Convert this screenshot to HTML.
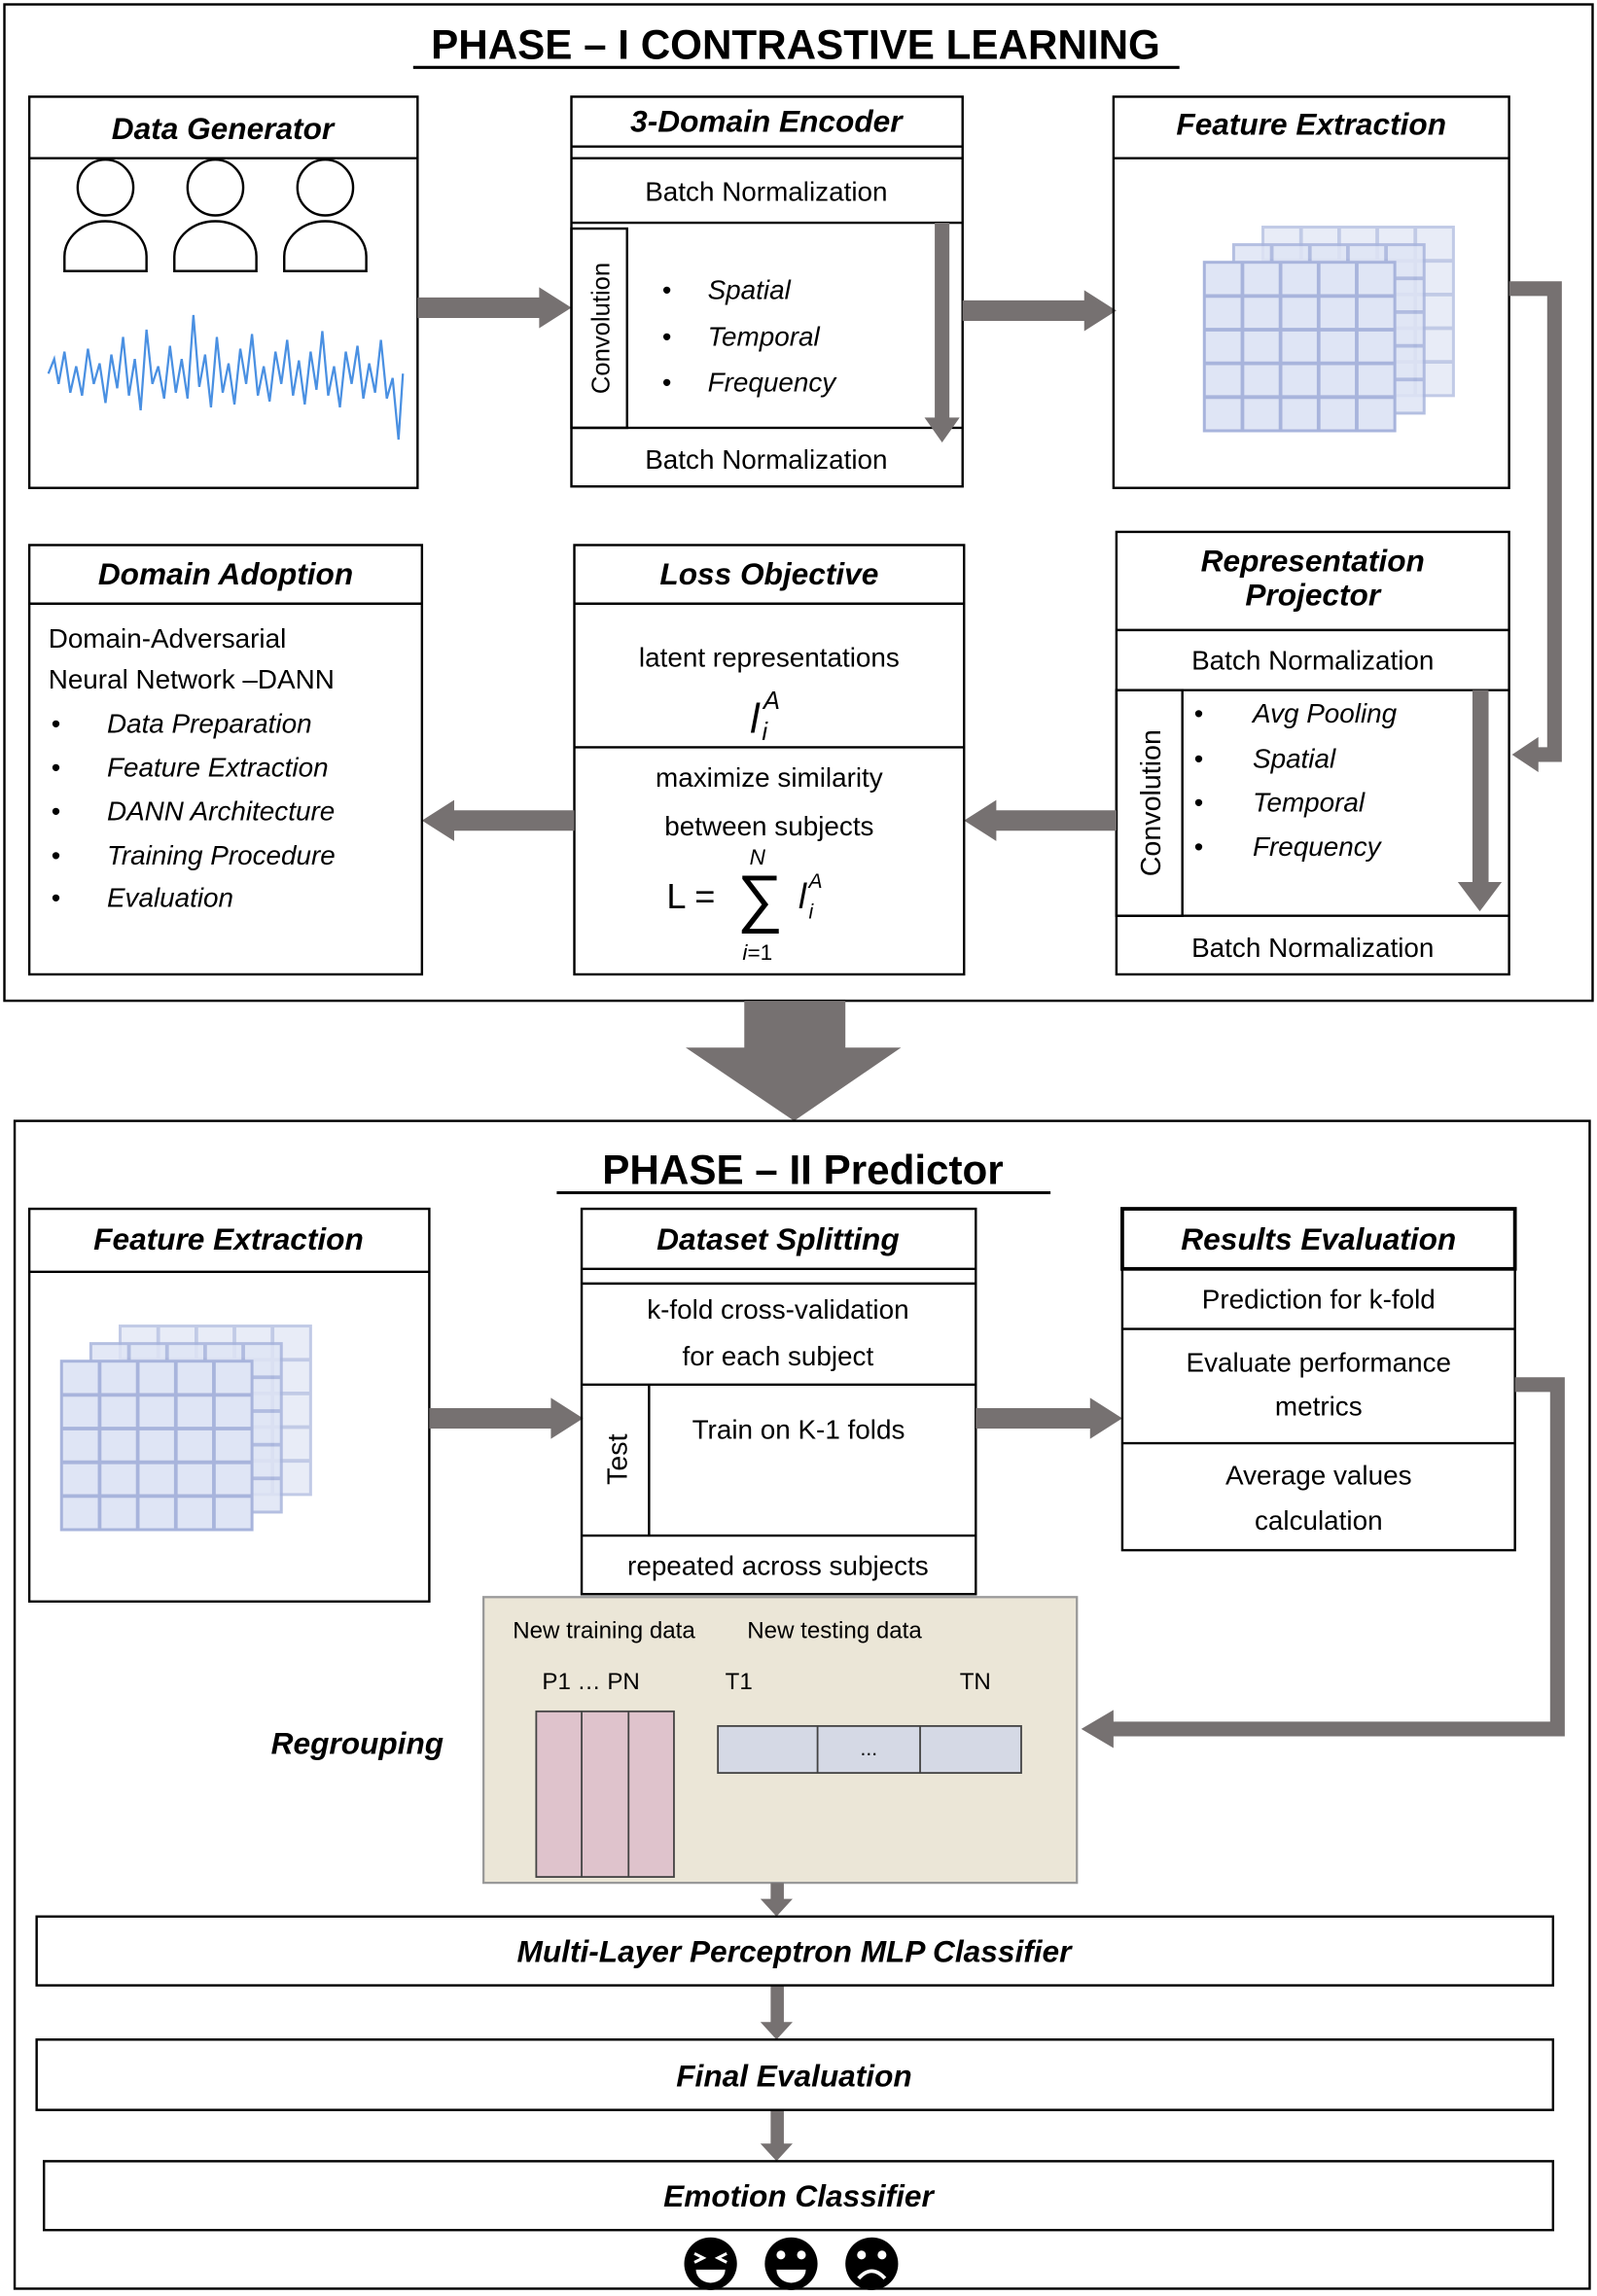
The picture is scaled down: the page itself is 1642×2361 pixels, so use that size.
<!DOCTYPE html>
<html><head><meta charset="utf-8"><style>
html,body{margin:0;padding:0;background:#fff;}
svg{display:block;}
text{font-family:"Liberation Sans",sans-serif;}
.h{font-weight:bold;font-style:italic;font-size:21px;text-anchor:middle;}
.t{font-size:18.5px;text-anchor:middle;}
.ti{font-size:18.5px;font-style:italic;}
.b{fill:none;stroke:#000;stroke-width:1.6;}
.g{fill:#767171;}
</style></head><body>
<svg width="1642" height="2361" viewBox="0 0 1090 1567" preserveAspectRatio="none" xmlns="http://www.w3.org/2000/svg">
<defs>
<g id="grid">
<rect x="0" y="0" width="130" height="115" fill="#dfe5f5" stroke="#a8b4dc" stroke-width="2"/>
<path d="M26 0V115M52 0V115M78 0V115M104 0V115M0 23H130M0 46H130M0 69H130M0 92H130" stroke="#a8b4dc" stroke-width="2.5" fill="none"/>
</g>
<g id="stack">
<use href="#grid" x="40" y="0" opacity="0.7"/>
<use href="#grid" x="20" y="12" opacity="0.85"/>
<use href="#grid" x="0" y="24"/>
</g>
<g id="person">
<circle cx="0" cy="-27" r="19" class="b" stroke-width="2.5"/>
<path d="M-28 30 V20 A28 24 0 0 1 28 20 V30 Z" class="b" stroke-width="2.5"/>
</g>
</defs>

<!-- PHASE I -->
<rect x="3" y="3" width="1084" height="680" class="b"/>
<text x="543" y="40" font-size="28" font-weight="bold" text-anchor="middle">PHASE – I   CONTRASTIVE LEARNING</text>
<line x1="282" y1="46" x2="805" y2="46" stroke="#000" stroke-width="2"/>

<!-- Data generator -->
<rect x="20" y="66" width="265" height="267" class="b"/>
<line x1="20" y1="108" x2="285" y2="108" stroke="#000" stroke-width="1.6"/>
<text x="152" y="95" class="h" font-size="23">Data Generator</text>
<use href="#person" x="72" y="155"/>
<use href="#person" x="147" y="155"/>
<use href="#person" x="222" y="155"/>
<polyline fill="none" stroke="#4a90e2" stroke-width="1.5" points="33,255 37,245 40,262 44,240 48,268 52,250 56,270 60,238 64,262 68,248 72,275 76,242 80,265 84,230 88,270 92,245 96,280 100,225 104,262 108,250 112,272 116,236 120,268 124,245 128,272 132,215 136,264 140,242 144,278 148,230 152,268 156,248 160,276 164,238 168,262 172,228 176,270 180,250 184,274 188,240 192,262 196,232 200,270 204,246 208,276 212,240 216,266 220,226 224,270 228,250 232,278 236,240 240,262 244,236 248,272 252,248 256,268 260,232 264,272 268,258 272,300 275,255"/>

<!-- arrow 1 -->
<path class="g" d="M285 203H368V196L390 210L368 224V217H285Z"/>

<!-- Encoder -->
<rect x="390" y="66" width="267" height="266" class="b"/>
<line x1="390" y1="100" x2="657" y2="100" stroke="#000" stroke-width="1.6"/>
<line x1="390" y1="108" x2="657" y2="108" stroke="#000" stroke-width="1.6"/>
<line x1="390" y1="152" x2="657" y2="152" stroke="#000" stroke-width="1.6"/>
<line x1="390" y1="292" x2="657" y2="292" stroke="#000" stroke-width="1.6"/>
<rect x="390" y="156" width="38" height="136" class="b"/>
<text x="523" y="90" class="h">3-Domain Encoder</text>
<text x="523" y="137" class="t">Batch Normalization</text>
<text x="523" y="320" class="t">Batch Normalization</text>
<text transform="translate(416,224) rotate(-90)" font-size="17" text-anchor="middle">Convolution</text>
<text x="452" y="204" font-size="18">•</text><text x="483" y="204" class="ti">Spatial</text>
<text x="452" y="236" font-size="18">•</text><text x="483" y="236" class="ti">Temporal</text>
<text x="452" y="267" font-size="18">•</text><text x="483" y="267" class="ti">Frequency</text>
<path class="g" d="M638 152H648V285H655L643 302L631 285H638Z"/>

<!-- arrow 2 -->
<path class="g" d="M657 205H740V198L762 212L740 226V219H657Z"/>

<!-- Feature Extraction -->
<rect x="760" y="66" width="270" height="267" class="b"/>
<line x1="760" y1="108" x2="1030" y2="108" stroke="#000" stroke-width="1.6"/>
<text x="895" y="92" class="h">Feature Extraction</text>
<use href="#stack" x="822" y="155"/>

<!-- connector right -->
<path class="g" d="M1030 192H1066V520H1050V527L1032 515L1050 503V510H1056V202H1030Z"/>

<!-- Representation projector -->
<rect x="762" y="363" width="268" height="302" class="b"/>
<line x1="762" y1="430" x2="1030" y2="430" stroke="#000" stroke-width="1.6"/>
<line x1="762" y1="471" x2="1030" y2="471" stroke="#000" stroke-width="1.6"/>
<line x1="762" y1="625" x2="1030" y2="625" stroke="#000" stroke-width="1.6"/>
<rect x="762" y="471" width="45" height="154" class="b"/>
<text x="896" y="390" class="h" font-size="17">Representation</text>
<text x="896" y="413" class="h" font-size="17">Projector</text>
<text x="896" y="457" class="t">Batch Normalization</text>
<text x="896" y="653" class="t">Batch Normalization</text>
<text transform="translate(792,548) rotate(-90)" font-size="19" text-anchor="middle">Convolution</text>
<text x="815" y="493" font-size="18">•</text><text x="855" y="493" class="ti">Avg Pooling</text>
<text x="815" y="524" font-size="18">•</text><text x="855" y="524" class="ti">Spatial</text>
<text x="815" y="554" font-size="18">•</text><text x="855" y="554" class="ti">Temporal</text>
<text x="815" y="584" font-size="18">•</text><text x="855" y="584" class="ti">Frequency</text>
<path class="g" d="M1005 471H1016V602H1025L1010 622L995 602H1005Z"/>

<!-- arrow left 1 -->
<path class="g" d="M762 553H680V546L658 560L680 574V567H762Z"/>

<!-- Loss Objective -->
<rect x="392" y="372" width="266" height="293" class="b"/>
<line x1="392" y1="412" x2="658" y2="412" stroke="#000" stroke-width="1.6"/>
<line x1="392" y1="510" x2="658" y2="510" stroke="#000" stroke-width="1.6"/>
<text x="525" y="399" class="h">Loss Objective</text>
<text x="525" y="455" class="t">latent representations</text>
<text x="512" y="500" font-family="Liberation Serif,serif" font-size="28" font-style="italic">l</text>
<text x="521" y="484" font-family="Liberation Serif,serif" font-size="17" font-style="italic">A</text>
<text x="520" y="505" font-family="Liberation Serif,serif" font-size="17" font-style="italic">i</text>
<text x="525" y="537" class="t">maximize similarity</text>
<text x="525" y="570" class="t">between subjects</text>
<text x="455" y="620" font-family="Liberation Serif,serif" font-size="24">L =</text>
<text x="503" y="628" font-family="Liberation Serif,serif" font-size="44">∑</text>
<text x="517" y="590" font-family="Liberation Serif,serif" font-size="15" font-style="italic" text-anchor="middle">N</text>
<text x="517" y="655" font-family="Liberation Serif,serif" font-size="15" text-anchor="middle"><tspan font-style="italic">i</tspan>=1</text>
<text x="545" y="620" font-family="Liberation Serif,serif" font-size="24" font-style="italic">l</text>
<text x="552" y="606" font-family="Liberation Serif,serif" font-size="14" font-style="italic">A</text>
<text x="552" y="627" font-family="Liberation Serif,serif" font-size="14" font-style="italic">i</text>

<!-- arrow left 2 -->
<path class="g" d="M392 553H310V546L288 560L310 574V567H392Z"/>

<!-- Domain adoption -->
<rect x="20" y="372" width="268" height="293" class="b"/>
<line x1="20" y1="412" x2="288" y2="412" stroke="#000" stroke-width="1.6"/>
<text x="154" y="399" class="h">Domain Adoption</text>
<text x="33" y="442" font-size="18.5">Domain-Adversarial</text>
<text x="33" y="470" font-size="18.5">Neural Network –DANN</text>
<text x="35" y="500" font-size="18">•</text><text x="73" y="500" class="ti">Data Preparation</text>
<text x="35" y="530" font-size="18">•</text><text x="73" y="530" class="ti">Feature Extraction</text>
<text x="35" y="560" font-size="18">•</text><text x="73" y="560" class="ti">DANN Architecture</text>
<text x="35" y="590" font-size="18">•</text><text x="73" y="590" class="ti">Training Procedure</text>
<text x="35" y="619" font-size="18">•</text><text x="73" y="619" class="ti">Evaluation</text>

<!-- big arrow down -->
<path class="g" d="M508 683H577V715H615L542 765L468 715H508Z"/>

<!-- PHASE II -->
<rect x="10" y="765" width="1075" height="797" class="b"/>
<text x="548" y="808" font-size="28" font-weight="bold" text-anchor="middle">PHASE – II   Predictor</text>
<line x1="380" y1="814" x2="717" y2="814" stroke="#000" stroke-width="2"/>

<!-- Feature Extraction 2 -->
<rect x="20" y="825" width="273" height="268" class="b"/>
<line x1="20" y1="868" x2="293" y2="868" stroke="#000" stroke-width="1.6"/>
<text x="156" y="853" class="h">Feature Extraction</text>
<use href="#stack" x="42" y="905"/>

<!-- arrow -->
<path class="g" d="M293 961H376V954L398 968L376 982V975H293Z"/>

<!-- Dataset Splitting -->
<rect x="397" y="825" width="269" height="263" class="b"/>
<line x1="397" y1="866" x2="666" y2="866" stroke="#000" stroke-width="1.6"/>
<line x1="397" y1="876" x2="666" y2="876" stroke="#000" stroke-width="1.6"/>
<line x1="397" y1="945" x2="666" y2="945" stroke="#000" stroke-width="1.6"/>
<line x1="397" y1="1048" x2="666" y2="1048" stroke="#000" stroke-width="1.6"/>
<line x1="443" y1="945" x2="443" y2="1048" stroke="#000" stroke-width="1.6"/>
<text x="531" y="853" class="h">Dataset Splitting</text>
<text x="531" y="900" class="t">k-fold cross-validation</text>
<text x="531" y="932" class="t">for each subject</text>
<text transform="translate(428,996) rotate(-90)" font-size="19" text-anchor="middle">Test</text>
<text x="545" y="982" class="t">Train on K-1 folds</text>
<text x="531" y="1075" class="t">repeated across subjects</text>

<!-- arrow -->
<path class="g" d="M666 961H744V954L766 968L744 982V975H666Z"/>

<!-- Results evaluation -->
<rect x="766" y="825" width="268" height="233" class="b"/>
<rect x="766" y="825" width="268" height="41" fill="none" stroke="#000" stroke-width="2.5"/>
<line x1="766" y1="907" x2="1034" y2="907" stroke="#000" stroke-width="1.6"/>
<line x1="766" y1="985" x2="1034" y2="985" stroke="#000" stroke-width="1.6"/>
<text x="900" y="853" class="h">Results Evaluation</text>
<text x="900" y="893" class="t">Prediction for k-fold</text>
<text x="900" y="936" class="t">Evaluate performance</text>
<text x="900" y="966" class="t">metrics</text>
<text x="900" y="1013" class="t">Average values</text>
<text x="900" y="1044" class="t">calculation</text>

<!-- connector -->
<path class="g" d="M1034 940H1068V1185H760V1193L738 1180L760 1167V1175H1058V950H1034Z"/>

<!-- Regrouping -->
<text x="185" y="1197" font-size="21" font-weight="bold" font-style="italic">Regrouping</text>
<rect x="330" y="1090" width="405" height="195" fill="#ebe6d7" stroke="#999" stroke-width="1.5"/>
<text x="350" y="1118" font-family="Liberation Serif,serif" font-size="16">New  training data</text>
<text x="510" y="1118" font-family="Liberation Serif,serif" font-size="16">New  testing data</text>
<text x="370" y="1153" font-family="Liberation Serif,serif" font-size="16">P1   …   PN</text>
<text x="495" y="1153" font-family="Liberation Serif,serif" font-size="16">T1</text>
<text x="655" y="1153" font-family="Liberation Serif,serif" font-size="16">TN</text>
<rect x="366" y="1168" width="94" height="113" fill="#dfc3cc" stroke="#444" stroke-width="1.2"/>
<line x1="397" y1="1168" x2="397" y2="1281" stroke="#444" stroke-width="1.2"/>
<line x1="429" y1="1168" x2="429" y2="1281" stroke="#444" stroke-width="1.2"/>
<rect x="490" y="1178" width="207" height="32" fill="#d5d9e5" stroke="#444" stroke-width="1.2"/>
<line x1="558" y1="1178" x2="558" y2="1210" stroke="#444" stroke-width="1.2"/>
<line x1="628" y1="1178" x2="628" y2="1210" stroke="#444" stroke-width="1.2"/>
<text x="593" y="1198" font-size="14" text-anchor="middle">...</text>

<!-- small arrows -->
<path class="g" d="M526 1285H535V1296H541L530 1308L519 1296H526Z"/>
<path class="g" d="M526 1355H535V1380H541L530 1392L519 1380H526Z"/>
<path class="g" d="M526 1440H535V1463H541L530 1475L519 1463H526Z"/>

<rect x="25" y="1308" width="1035" height="47" class="b"/>
<text x="542" y="1339" class="h">Multi-Layer Perceptron MLP Classifier</text>
<rect x="25" y="1392" width="1035" height="48" class="b"/>
<text x="542" y="1424" class="h">Final Evaluation</text>
<rect x="30" y="1475" width="1030" height="47" class="b"/>
<text x="545" y="1506" class="h">Emotion Classifier</text>

<!-- emojis -->
<circle cx="485" cy="1545" r="18"/>
<path d="M474 1538l6 3-6 3M496 1538l-6 3 6 3" stroke="#fff" stroke-width="2" fill="none"/>
<path d="M475 1549H495A10 9 0 0 1 475 1549Z" fill="#fff"/>
<circle cx="540" cy="1545" r="18"/>
<circle cx="533" cy="1539" r="3" fill="#fff"/><circle cx="547" cy="1539" r="3" fill="#fff"/>
<path d="M530 1549H550A10 9 0 0 1 530 1549Z" fill="#fff"/>
<circle cx="595" cy="1545" r="18"/>
<circle cx="588" cy="1539" r="3" fill="#fff"/><circle cx="602" cy="1539" r="3" fill="#fff"/>
<path d="M586 1555Q595 1545 604 1555" stroke="#fff" stroke-width="2.5" fill="none"/>
</svg>
</body></html>
